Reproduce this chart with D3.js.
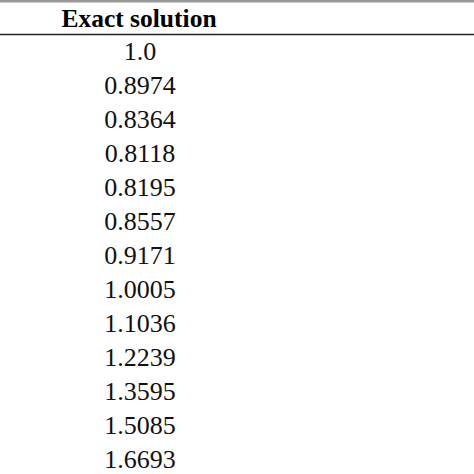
<!DOCTYPE html>
<html><head><meta charset="UTF-8">
<script src="https://d3js.org/d3.v7.min.js"></script>
<style>body{margin:0;background:#fff}</style>
</head><body>
<svg id="tbl" width="474" height="474"></svg>
<script>
const header = "Exact solution";
const values = ["1.0","0.8974","0.8364","0.8118","0.8195","0.8557","0.9171","1.0005","1.1036","1.2239","1.3595","1.5085","1.6693"];

const svg = d3.select("#tbl");
const font = "'Liberation Serif','Times New Roman',serif";
svg.append("rect").attr("x",0).attr("y",0).attr("width",474).attr("height",2.5).attr("fill","#999");
svg.append("text").attr("x",139).attr("y",27).attr("text-anchor","middle")
  .attr("font-family",font).attr("font-size",25.5).attr("font-weight","bold").text(header);
svg.append("line").attr("x1",0).attr("x2",474).attr("y1",34.5).attr("y2",34.5)
  .attr("stroke","#222").attr("stroke-width",1.5);

const y = d3.scaleLinear().domain([0, values.length-1]).range([60, 468]);
svg.selectAll("text.v").data(values).enter().append("text").attr("class","v")
  .attr("x",140).attr("y",(d,i)=>y(i)).attr("text-anchor","middle")
  .attr("font-family",font).attr("font-size",26).attr("fill","#111").text(d=>d);
</script>
</body></html>
